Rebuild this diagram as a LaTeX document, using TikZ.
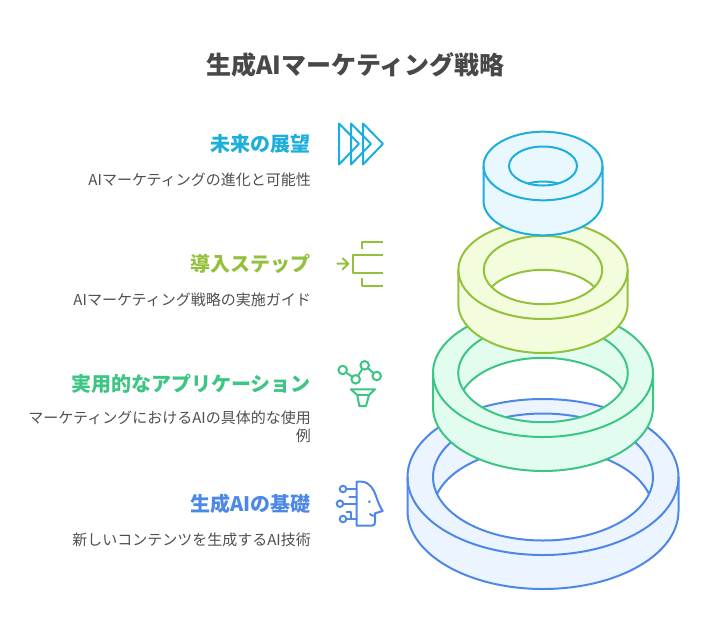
\documentclass[tikz,border=0pt]{standalone}
\usepackage{fontspec}
\setmainfont{Noto Sans CJK JP}
\definecolor{futureblue}{HTML}{1EAEDB}
\definecolor{futurefill}{HTML}{E8F8FE}
\definecolor{stepgreen}{HTML}{93C13B}
\definecolor{stepfill}{HTML}{F3FDDE}
\definecolor{appgreen}{HTML}{3CC583}
\definecolor{appfill}{HTML}{E2FDF0}
\definecolor{basicblue}{HTML}{4E88E7}
\definecolor{basicfill}{HTML}{ECF4FF}
\definecolor{titlegray}{HTML}{484848}
\definecolor{bodygray}{HTML}{4F4F4F}
\tikzstyle{titleText} = [
 anchor = center,
 text = titlegray,
 font = \fontsize{25}{30}\selectfont\bfseries
]
\tikzstyle{heading} = [
 anchor = east,
 inner sep = 0pt,
 font = \fontsize{20}{24}\selectfont\bfseries
]
\tikzstyle{body} = [
 anchor = east,
 inner sep = 0pt,
 align = right,
 text = bodygray,
 font = \fontsize{15}{18}\selectfont
]
\tikzstyle{icon} = [
 line width = 2pt,
 line join = round,
 line cap = round
]
\tikzstyle{ringLine} = [
 line width = 2pt,
 line join = round
]
\tikzstyle{dotNode} = [
 circle,
 line width = 2pt,
 minimum size = 8.5pt,
 inner sep = 0pt
]
\tikzstyle{pinNode} = [
 circle,
 line width = 2pt,
 minimum size = 6.5pt,
 inner sep = 0pt
]
\begin{document}
\begin{tikzpicture}[x=1pt,y=-1pt]
  \useasboundingbox (0,0) rectangle (703,638);
  % rings, lowest first
  \foreach \cy/\rx/\ry/\ix/\iy/\hh/\col/\bg in {
    477/135.5/78/110/63.5/34/basicblue/basicfill,
    373/110/64/84.8/49.2/34/appgreen/appfill,
    270/84.7/49/59.2/34.2/34/stepgreen/stepfill,
    166/59.5/34.3/34/19.5/35/futureblue/futurefill} {
    \pgfmathsetmacro{\ang}{asin(\hh/(2*\iy))}
    \pgfmathsetmacro{\lx}{543-\ix*cos(\ang)}
    \pgfmathsetmacro{\rgt}{543+\ix*cos(\ang)}
    \pgfmathsetmacro{\my}{\cy+\hh/2}
    \fill [\bg, even odd rule]
      (543-\rx,\cy) arc [start angle=180, end angle=360, x radius=\rx, y radius=\ry]
      -- (543+\rx,\cy+\hh) arc [start angle=0, end angle=180, x radius=\rx, y radius=\ry] -- cycle
      (\lx,\my) arc [start angle=180-\ang, end angle=\ang, x radius=\ix, y radius=\iy]
      arc [start angle=360-\ang, end angle=180+\ang, x radius=\ix, y radius=\iy] -- cycle;
    \draw [ringLine, \col]
      (543-\rx,\cy) -- (543-\rx,\cy+\hh) arc [start angle=180, end angle=0, x radius=\rx, y radius=\ry]
      -- (543+\rx,\cy);
    \draw [ringLine, \col] (543,\cy) ellipse [x radius=\rx, y radius=\ry];
    \draw [ringLine, \col] (543,\cy) ellipse [x radius=\ix, y radius=\iy];
    \draw [ringLine, \col] (\rgt,\my)
      arc [start angle=360-\ang, end angle=180+\ang, x radius=\ix, y radius=\iy];
  }
  % texts
  \node [titleText] (title) at (355.5,65) {生成AIマーケティング戦略};
  \node [heading, text=futureblue] (futureHead) at (311,144) {未来の展望};
  \node [body] (futureBody) at (311,180) {AIマーケティングの進化と可能性};
  \node [heading, text=stepgreen] (stepHead) at (311,264) {導入ステップ};
  \node [body] (stepBody) at (311,300) {AIマーケティング戦略の実施ガイド};
  \node [heading, text=appgreen] (appHead) at (311,384) {実用的なアプリケーション};
  \node [body] (appBody) at (311,427) {マーケティングにおけるAIの具体的な使用\\例};
  \node [heading, text=basicblue] (basicHead) at (311,504) {生成AIの基礎};
  \node [body] (basicBody) at (311,540) {新しいコンテンツを生成するAI技術};
  % chevrons
  \foreach \x in {339,351,363}
    \draw [icon, futureblue] (\x,123.5) -- (\x+20,143.8) -- (\x,164.5) -- cycle;
  % steps
  \draw [icon, stepgreen, line cap=butt] (382.7,242.3) -- (362.3,242.3) -- (362.3,249.3);
  \draw [icon, stepgreen, line cap=butt] (382.7,254.7) -- (353,254.7) -- (353,272.7) -- (382.7,272.7);
  \draw [icon, stepgreen, line cap=butt] (362.3,278.3) -- (362.3,285.7) -- (382.7,285.7);
  \draw [icon, stepgreen] (337.3,263.7) -- (348.3,263.7) (342.7,258.3) -- (348.3,263.7) -- (342.7,269.3);
  % graph and funnel
  \node [dotNode, draw=appgreen] (dotA) at (342.7,370) {};
  \node [dotNode, draw=appgreen] (dotB) at (355.7,379.3) {};
  \node [dotNode, draw=appgreen] (dotC) at (364.7,365.3) {};
  \node [dotNode, draw=appgreen] (dotD) at (376.7,376) {};
  \draw [icon, appgreen] (dotA) -- (dotB) -- (dotC) -- (dotD);
  \draw [icon, appgreen] (350.7,389.3) -- (375,389.3) -- (369,395) -- (366,406) -- (359.3,406) -- (357.3,395) -- cycle;
  \draw [icon, appgreen] (357.3,395) -- (369,395);
  % head
  \draw [icon, basicblue] (356.7,481.7) -- (361.7,481.7)
    .. controls (370,482) and (374,490) .. (376,496)
    .. controls (378,502) and (380,507) .. (382.7,511)
    -- (375,513.3) -- (375,521.7)
    .. controls (375,524) and (374.5,525.7) .. (372,525.7)
    -- (356.7,525.7) -- cycle;
  \fill [basicblue] (369.3,501.7) circle (1.5);
  \draw [icon, basicblue] (370,514) .. controls (371,515.5) and (373,516) .. (375,515.7);
  \node [pinNode, draw=basicblue] (pinA) at (343,489) {};
  \node [pinNode, draw=basicblue] (pinB) at (340,503.7) {};
  \node [pinNode, draw=basicblue] (pinC) at (343,519) {};
  \coordinate (headA) at (356.7,489);
  \coordinate (headB) at (356.7,503.7);
  \coordinate (headC) at (356.7,519);
  \draw [icon, basicblue] (pinA) -- (headA);
  \draw [icon, basicblue] (pinB) -- (headB);
  \draw [icon, basicblue] (pinC) -- (headC);
  \draw [icon, basicblue] (349.3,496.7) -- (356.7,496.7);
  \draw [icon, basicblue] (350.7,519) -- (350.7,511.7) -- (346.7,511.7);
\end{tikzpicture}
\end{document}
